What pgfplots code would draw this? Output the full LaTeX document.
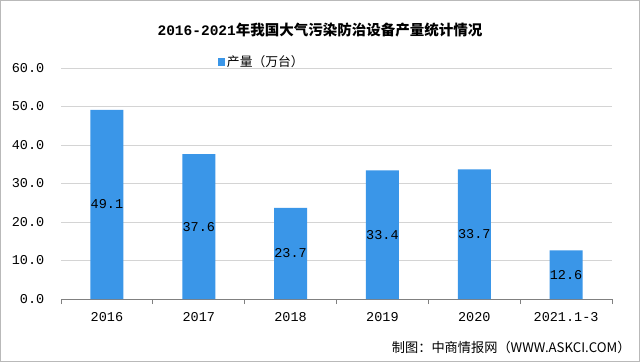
\documentclass[border=0pt]{standalone}
\usepackage{fontspec}
\setmainfont{Noto Sans CJK SC}
\setmonofont{Liberation Mono}
\usepackage{pgfplots}
\pgfplotsset{compat=1.18}
\definecolor{barblue}{HTML}{3A96E8}
\definecolor{gridgray}{HTML}{D4D4D4}
\definecolor{axgray}{HTML}{808080}
\begin{document}
\begin{tikzpicture}[x=1bp,y=1bp]
\fill[white] (0,0) rectangle (640,362);
\draw[gray!55, line width=1.2bp] (0.6,0.6) rectangle (639.4,361.4);
\node[font=\fontsize{14.5bp}{17bp}\selectfont\bfseries] at (320,332) {{\ttfamily 2016-2021}年我国大气污染防治设备产量统计情况};
\node[anchor=east, font=\fontsize{13.2bp}{15bp}\selectfont] at (634,15) {制图：中商情报网（WWW.ASKCI.COM）};
\begin{axis}[
  at={(61bp,63bp)}, anchor=south west,
  scale only axis, width=551bp, height=231bp,
  xmin=-0.5, xmax=5.5, ymin=0, ymax=60,
  axis lines*=left,
  y axis line style={draw=none},
  x axis line style={draw=axgray, line width=0.9bp},
  ytick={0,10,...,60},
  ytick style={draw=none},
  yticklabel style={font=\ttfamily\fontsize{13.5bp}{16bp}\selectfont, xshift=-9bp,
     /pgf/number format/.cd, fixed, fixed zerofill, precision=1, assume math mode=true},
  ymajorgrids, grid style={gridgray, line width=0.9bp},
  xtick={0,...,5},
  xticklabels={2016,2017,2018,2019,2020,2021.1-3},
  xticklabel style={font=\ttfamily\fontsize{13.5bp}{16bp}\selectfont, yshift=-6bp},
  major x tick style={draw=none},
  minor xtick={-0.5,0.5,...,5.5},
  minor x tick style={draw=axgray, line width=0.9bp},
  minor tick length=5bp,
  tick align=outside,
  legend style={draw=none, fill=none, at={(0.365,1.026)}, anchor=center,
     font=\fontsize{12.8bp}{15bp}\selectfont, inner sep=0pt},
  legend image code/.code={\fill[barblue] (0bp,-4bp) rectangle (6.5bp,3.5bp);},
  legend cell align=left,
  clip=false,
]
\addplot[ybar, bar width=33bp, fill=barblue, draw=none] coordinates {
  (0,49.1) (1,37.6) (2,23.7) (3,33.4) (4,33.7) (5,12.6)
};
\addlegendentry{产量（万台）}
\addplot[only marks, mark=*, mark size=0pt, mark options={draw=none,fill=none},
  nodes near coords, point meta=explicit symbolic,
  every node near coord/.append style={anchor=center, font=\ttfamily\fontsize{13.5bp}{16bp}\selectfont, text=black},
  forget plot] coordinates {
  (0,24.55)[49.1] (1,18.8)[37.6] (2,11.85)[23.7] (3,16.7)[33.4] (4,16.85)[33.7] (5,6.3)[12.6]
};
\end{axis}
\end{tikzpicture}
\end{document}
